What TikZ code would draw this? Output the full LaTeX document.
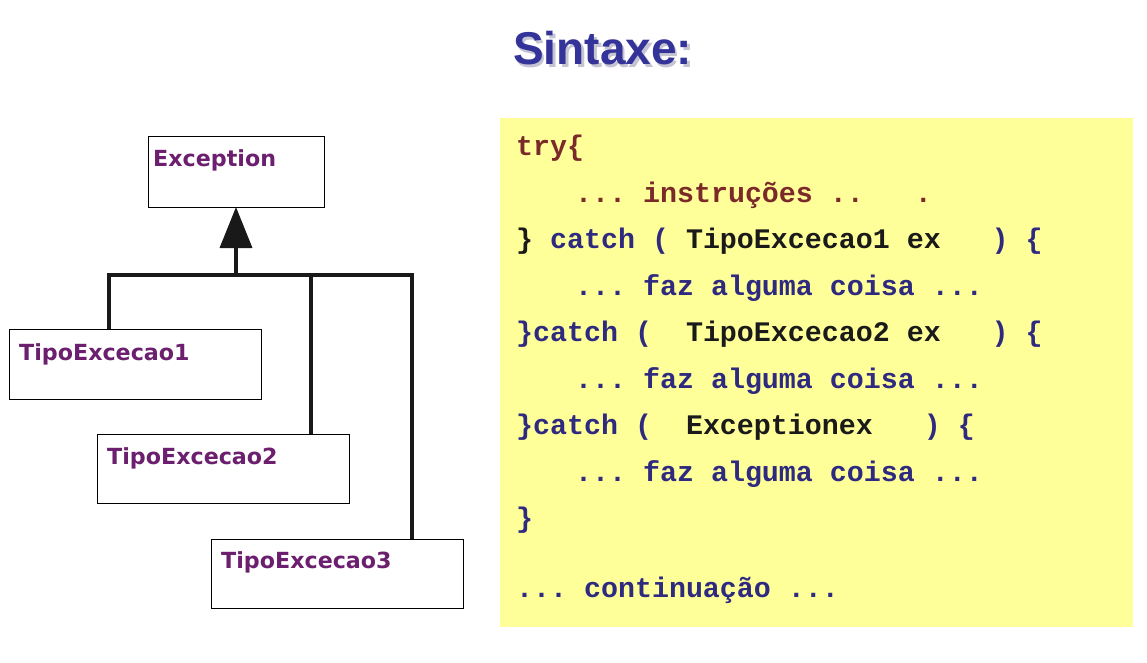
\documentclass[tikz,border=0pt]{standalone}
\usepackage{fontspec}
\usetikzlibrary{arrows.meta}
\newfontfamily\codefont{Liberation Mono}[BoldFont={Liberation Mono Bold}]
\newfontfamily\lblfont{DejaVu Sans}
\newfontfamily\titlefont{Liberation Sans}
\definecolor{codered}{HTML}{7B2A2A}
\definecolor{codeblue}{HTML}{2E2A80}
\definecolor{codeblack}{HTML}{1A1A1A}
\definecolor{lblpurple}{HTML}{6B1F6E}
\definecolor{paper}{HTML}{FFFF99}
\definecolor{titleblue}{HTML}{333399}
\definecolor{titleshadow}{HTML}{C4C4D2}
\tikzset{
  classbox/.style={draw=black, line width=1pt, fill=white, anchor=north west, inner sep=0pt, outer sep=0pt},
  lbl/.style={anchor=base west, inner sep=0pt, font=\lblfont\bfseries\fontsize{22.2}{22.2}\selectfont, text=lblpurple},
  code/.style={anchor=base west, inner sep=0pt, font=\codefont\bfseries\fontsize{28.3}{28.3}\selectfont\frenchspacing},
  tree/.style={line width=3.5pt, draw=black!90},
}
\begin{document}
\begin{tikzpicture}[x=1pt,y=-1pt]
\useasboundingbox (0,0) rectangle (1147,663);
% title
\node[anchor=base west, inner sep=0pt, text=titleshadow, font=\titlefont\bfseries\fontsize{46}{46}\selectfont] (titlesh) at (515.5,67.5) {Sintaxe:};
\node[anchor=base west, inner sep=0pt, text=titleblue, font=\titlefont\bfseries\fontsize{46}{46}\selectfont] (title) at (513,65) {Sintaxe:};
% code panel
\node[fill=paper, draw=none, anchor=north west, minimum width=633pt, minimum height=509pt, inner sep=0pt] (panel) at (500,118) {};
\node[code, text=codered] (l1) at (516,155.5) {try\{};
\node[code, text=codered] (l2) at (575,202) {... instruções ..~~~.};
\node[code] (l3) at (516,248.5) {\textcolor{codeblack}{\}}\textcolor{codeblue}{~catch~(~}\textcolor{codeblack}{TipoExcecao1~ex}\textcolor{codeblue}{~~~)~\{}};
\node[code, text=codeblue] (l4) at (575,295) {... faz alguma coisa ...};
\node[code] (l5) at (516,341.5) {\textcolor{codeblue}{\}catch~(~~}\textcolor{codeblack}{TipoExcecao2~ex}\textcolor{codeblue}{~~~)~\{}};
\node[code, text=codeblue] (l6) at (575,388) {... faz alguma coisa ...};
\node[code] (l7) at (516,434.5) {\textcolor{codeblue}{\}catch~(~~}\textcolor{codeblack}{Exceptionex}\textcolor{codeblue}{~~~)~\{}};
\node[code, text=codeblue] (l8) at (575,481) {... faz alguma coisa ...};
\node[code, text=codeblue] (l9) at (516,527.5) {\}};
\node[code, text=codeblue] (l10) at (516,597.5) {... continuação ...};
% class boxes
\node[classbox, minimum width=176pt, minimum height=70pt] (exc) at (148,137) {};
\node[classbox, minimum width=252pt, minimum height=70pt] (t1) at (9,329) {};
\node[classbox, minimum width=252pt, minimum height=69pt] (t2) at (97,434) {};
\node[classbox, minimum width=252pt, minimum height=69pt] (t3) at (211,539) {};
\node[lbl] (excl) at (153,167) {Exception};
\node[lbl] (t1l) at (19,360) {TipoExcecao1};
\node[lbl] (t2l) at (107,464) {TipoExcecao2};
\node[lbl] (t3l) at (221,568) {TipoExcecao3};
% inheritance tree
\coordinate (bj) at (236,275);
\coordinate (b1) at (109,275);
\coordinate (b2) at (311,275);
\coordinate (b3) at (412,275);
\draw[tree] ([xshift=-1.75pt]b1) -- ([xshift=1.75pt]b3);
\draw[tree] (b1) -- (b1 |- t1.north);
\draw[tree] (b2) -- (b2 |- t2.north);
\draw[tree] (b3) -- (b3 |- t3.north);
\draw[tree, -{Triangle[length=41pt,width=32pt]}] (bj) -- (bj |- exc.south);
\end{tikzpicture}
\end{document}
